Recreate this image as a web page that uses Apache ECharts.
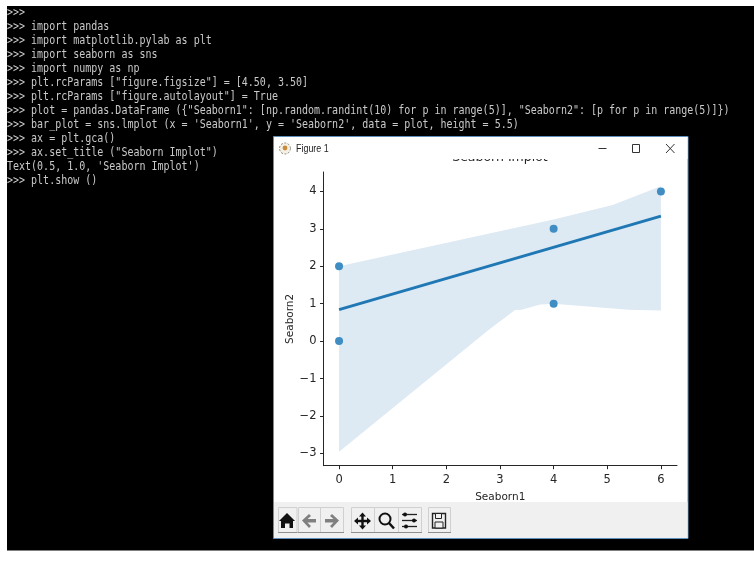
<!DOCTYPE html>
<html><head><meta charset="utf-8">
<style>html,body{margin:0;padding:0;background:#fff}#c{width:754px;height:562px}</style>
<script src="https://cdn.jsdelivr.net/npm/echarts@6/dist/echarts.min.js"></script>
</head><body><div id="c"></div>
<script>
const terminalLines = [
 '>>>',
 '>>> import pandas',
 '>>> import matplotlib.pylab as plt',
 '>>> import seaborn as sns',
 '>>> import numpy as np',
 '>>> plt.rcParams ["figure.figsize"] = [4.50, 3.50]',
 '>>> plt.rcParams ["figure.autolayout"] = True',
 '>>> plot = pandas.DataFrame ({"Seaborn1": [np.random.randint(10) for p in range(5)], "Seaborn2": [p for p in range(5)]})',
 ">>> bar_plot = sns.lmplot (x = 'Seaborn1', y = 'Seaborn2', data = plot, height = 5.5)",
 '>>> ax = plt.gca()',
 '>>> ax.set_title ("Seaborn Implot")',
 "Text(0.5, 1.0, 'Seaborn Implot')",
 '>>> plt.show ()'
];
const seaborn1 = [0, 4, 0, 4, 6];
const seaborn2 = [0, 1, 2, 3, 4];
const fitX = [0, 6];
const fitY = [0.84, 3.34];
const bandUpperX = [0, 4, 5.1, 6];
const bandUpperY = [2.0, 3.25, 3.64, 4.14];
const bandLowerX = [0, 2.78, 3.28, 3.4, 3.75, 4, 5.4, 6];
const bandLowerY = [-2.96, 0.29, 0.83, 0.84, 0.98, 1.0, 0.84, 0.82];
const xTicks = [0, 1, 2, 3, 4, 5, 6];
const yTicks = [-3, -2, -1, 0, 1, 2, 3, 4];

const bandPoly = bandUpperX.map((x, i) => [x, bandUpperY[i]])
  .concat(bandLowerX.map((x, i) => [x, bandLowerY[i]]).reverse());

const ink = '#262626';
const under = [];
under.push({type:'rect', z:0, shape:{x:7,y:6,width:747,height:544.5}, style:{fill:'#000'}});
terminalLines.forEach((t, i) => under.push({type:'text', z:1, x:7, y:12.6 + i * 14.02, scaleY:1.15,
  style:{text:t, fill:'#c9c9c9', font:'10px "DejaVu Sans Mono"', textVerticalAlign:'middle', textBaseline:'middle'}}));
under.push({type:'rect', z:2, shape:{x:273.5,y:136.5,width:414.5,height:402}, style:{fill:'#fff', stroke:'#5f8fbd', lineWidth:1}});

const over = [];
over.push({type:'text', z:50, x:500, y:164.5, style:{text:'Seaborn Implot', fill:ink, font:'12.5px "DejaVu Sans"', textAlign:'center', textVerticalAlign:'bottom', textBaseline:'bottom'}});
over.push({type:'rect', z:51, shape:{x:274,y:137,width:413.5,height:22}, style:{fill:'#fff'}});
over.push({type:'circle', z:52, shape:{cx:285,cy:148.5,r:5.5}, style:{fill:'#f4f0e6', stroke:'#8a8a80', lineWidth:1, lineDash:[2,1.5]}});
over.push({type:'circle', z:52, shape:{cx:285,cy:148,r:2.4}, style:{fill:'#c98b3c'}});
over.push({type:'text', z:52, x:296, y:149, scaleX:0.85, style:{text:'Figure 1', fill:'#222', font:'10.5px "Liberation Sans"', textVerticalAlign:'middle', textBaseline:'middle'}});
over.push({type:'line', z:52, shape:{x1:598.5,y1:148.5,x2:606.5,y2:148.5}, style:{stroke:'#333',lineWidth:1}});
over.push({type:'rect', z:52, shape:{x:632.5,y:144.5,width:7,height:8}, style:{fill:'none',stroke:'#333',lineWidth:1}});
over.push({type:'line', z:52, shape:{x1:666,y1:144,x2:674.5,y2:153}, style:{stroke:'#333',lineWidth:1}});
over.push({type:'line', z:52, shape:{x1:674.5,y1:144,x2:666,y2:153}, style:{stroke:'#333',lineWidth:1}});
over.push({type:'rect', z:50, shape:{x:274,y:502,width:413.5,height:36}, style:{fill:'#f0f0f0'}});
[[278,18.5],[298,22],[320,23],[351,23],[374,24],[398,23],[428,22]].forEach(b => {
  over.push({type:'rect', z:51, shape:{x:b[0]+.5,y:507.5,width:b[1],height:25}, style:{fill:'#f0f0f0', stroke:'#d0d0d0', lineWidth:1}});
  over.push({type:'line', z:51, shape:{x1:b[0],y1:532.5,x2:b[0]+b[1]+1,y2:532.5}, style:{stroke:'#8f8f8f', lineWidth:1}});
});
const icon = (pts, fill) => over.push({type:'polygon', z:52, shape:{points:pts}, style:{fill:fill}});
icon([[287,513],[295,521],[293,521],[293,528],[289.5,528],[289.5,523.5],[285,523.5],[285,528],[281,528],[281,521],[279,521]], '#111');
icon([[302,520.5],[309,514],[311,516],[307.5,519],[316,519],[316,522.5],[307.5,522.5],[311,526],[309,528]], '#808080');
icon([[339,520.5],[332,514],[330,516],[333.5,519],[325,519],[325,522.5],[333.5,522.5],[330,526],[332,528]], '#808080');
icon([[362.5,512.5],[366,516.5],[363.7,516.5],[363.7,519.8],[367,519.8],[367,517.5],[371,521],[367,524.5],[367,522.2],[363.7,522.2],[363.7,525.5],[366,525.5],[362.5,529.5],[359,525.5],[361.3,525.5],[361.3,522.2],[358,522.2],[358,524.5],[354,521],[358,517.5],[358,519.8],[361.3,519.8],[361.3,516.5],[359,516.5]], '#111');
over.push({type:'circle', z:52, shape:{cx:385,cy:519,r:5.5}, style:{fill:'none',stroke:'#111',lineWidth:2}});
over.push({type:'line', z:52, shape:{x1:389,y1:523,x2:394,y2:528.5}, style:{stroke:'#111',lineWidth:2.6}});
[[514.5,405],[520.5,414],[526.5,406]].forEach(s => {
  over.push({type:'line', z:52, shape:{x1:402,y1:s[0],x2:417,y2:s[0]}, style:{stroke:'#222',lineWidth:1.3}});
  over.push({type:'circle', z:52, shape:{cx:s[1],cy:s[0],r:2}, style:{fill:'#111'}});
});
over.push({type:'rect', z:52, shape:{x:432.5,y:513.5,width:13,height:14.5}, style:{fill:'#f0f0f0',stroke:'#222',lineWidth:1.4}});
over.push({type:'rect', z:52, shape:{x:435.5,y:513.5,width:6,height:5}, style:{fill:'#f0f0f0',stroke:'#222',lineWidth:1}});
over.push({type:'rect', z:52, shape:{x:435,y:522,width:8,height:6}, style:{fill:'#f0f0f0',stroke:'#222',lineWidth:1}});

const chart = echarts.init(document.getElementById('c'), null, {renderer:'canvas'});
const axisCommon = {
  z:10,
  axisLine:{onZero:false, lineStyle:{color:ink, width:1}},
  splitLine:{show:false},
  nameLocation:'middle',
  nameTextStyle:{color:ink, fontFamily:'DejaVu Sans', fontSize:10.5},
};
const tickStyle = {length:3.5, lineStyle:{color:ink, width:1}};
chart.setOption({
  animation:false,
  backgroundColor:'#fff',
  graphic:{elements:under.concat(over)},
  grid:{left:323.5, top:172, width:353.5, height:293.7, containLabel:false},
  xAxis:Object.assign({type:'value', min:-0.29, max:6.3, name:'Seaborn1', nameGap:26}, axisCommon, {
    axisTick:Object.assign({customValues:xTicks}, tickStyle),
    axisLabel:{customValues:xTicks, color:ink, fontFamily:'DejaVu Sans', fontSize:11.5, margin:8}
  }),
  yAxis:Object.assign({type:'value', min:-3.33, max:4.52, name:'Seaborn2', nameGap:27}, axisCommon, {
    axisTick:Object.assign({customValues:yTicks}, tickStyle),
    axisLabel:{customValues:yTicks, color:ink, fontFamily:'DejaVu Sans', fontSize:11.5, margin:7,
      formatter:v => String(v).replace('-', '\u2212')}
  }),
  series:[
    {type:'custom', z:3, coordinateSystem:'cartesian2d', data:bandPoly, silent:true, clip:false,
     renderItem:(p, api) => {
       if (p.dataIndex !== 0) return null;
       return {type:'polygon', shape:{points:bandPoly.map(d => api.coord(d))}, style:{fill:'#dde9f3'}};
     }},
    {type:'line', z:4, data:fitX.map((x, i) => [x, fitY[i]]), showSymbol:false, lineStyle:{color:'#1f77b4', width:2.8}, silent:true},
    {type:'scatter', z:5, data:seaborn1.map((x, i) => [x, seaborn2[i]]), symbolSize:8, itemStyle:{color:'#3f8dc2', opacity:1}, silent:true}
  ]
});
</script></body></html>
